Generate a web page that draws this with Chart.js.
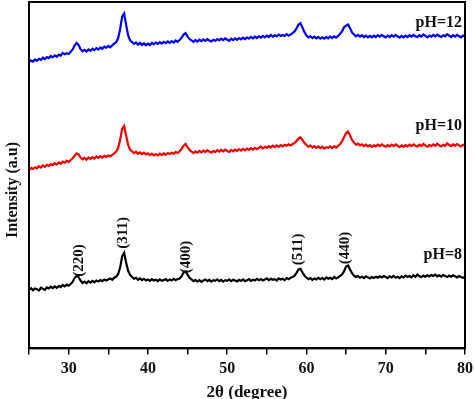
<!DOCTYPE html>
<html>
<head>
<meta charset="utf-8">
<script src="https://cdn.jsdelivr.net/npm/chart.js@4.4.0/dist/chart.umd.min.js"></script>
<style>
  html, body { margin: 0; padding: 0; background: #fff; }
  #wrap { width: 474px; height: 399px; position: relative; }
</style>
</head>
<body>
<div id="wrap"><canvas id="c" width="474" height="399"></canvas></div>
<script>
// ---- Data ----
const scanStart = 25;      // 2θ of first sample
const scanStep = 0.25;     // 2θ step
const xTicks = [30, 40, 50, 60, 70, 80];

const seriesNames = ['pH=8', 'pH=10', 'pH=12'];

const ph8 = [
  17.0, 17.4, 16.8, 17.3,  17.1, 16.7, 17.5, 17.2,  16.9, 17.6, 17.3, 17.8,  17.4, 17.9, 17.5, 18.0,
  17.7, 18.3, 17.9, 18.4,  18.1, 18.6, 19.2, 20.3,  20.9, 20.6, 19.6, 18.9,  19.3, 18.8, 19.4, 19.0,
  19.5, 19.1, 19.6, 19.3,  19.7, 19.4, 19.9, 19.6,  19.9, 20.2, 19.8, 20.4,  20.7, 21.5, 23.4, 26.6,
  27.6, 24.8, 22.4, 21.2,  20.6, 20.1, 20.4, 19.8,  20.2, 19.7, 20.1, 19.6,  19.9, 19.5, 20.0, 19.6,
  19.8, 19.4, 19.9, 19.5,  19.7, 20.0, 19.5, 19.9,  19.6, 20.1, 19.7, 20.0,  20.2, 20.8, 21.9, 22.2,
  21.3, 20.4, 19.9, 19.4,  19.8, 19.3, 19.7, 19.2,  19.6, 19.9, 19.4, 19.8,  19.3, 19.7, 19.5, 19.9,
  19.4, 19.8, 19.3, 19.7,  19.5, 19.9, 19.4, 19.8,  19.6, 19.3, 19.8, 19.5,  19.9, 19.4, 19.7, 20.0,
  19.5, 19.8, 19.6, 20.1,  19.7, 20.0, 19.6, 19.9,  20.2, 19.7, 20.1, 19.8,  20.0, 19.6, 20.2, 19.9,
  20.1, 19.7, 20.3, 20.0,  20.4, 20.6, 21.0, 21.8,  22.8, 23.0, 21.9, 21.0,  20.4, 20.0, 20.3, 19.8,
  20.2, 19.9, 20.4, 20.0,  20.3, 19.9, 20.5, 20.1,  20.4, 20.0, 20.6, 20.2,  20.5, 20.9, 21.4, 22.3,
  23.6, 23.9, 22.8, 21.7,  21.0, 20.6, 20.9, 20.4,  20.7, 20.3, 20.8, 20.5,  20.2, 20.6, 20.3, 20.7,
  20.4, 20.8, 20.5, 20.9,  20.6, 20.3, 20.8, 20.5,  20.9, 20.4, 20.7, 20.3,  20.8, 20.5, 21.0, 20.6,
  20.9, 20.5, 21.1, 20.7,  21.3, 20.8, 20.6, 21.0,  20.7, 21.1, 20.8, 21.2,  20.9, 21.3, 20.8, 21.1,
  20.7, 21.2, 20.9, 20.6,  21.0, 20.7, 21.1, 20.8,  20.5, 20.9, 20.6, 20.4,  20.6
];

const ph10 = [
  51.6, 52.1, 51.8, 52.3,  52.0, 52.6, 52.2, 52.8,  52.4, 53.0, 52.7, 53.2,  52.9, 53.5, 53.1, 53.7,
  53.3, 53.9, 53.6, 54.2,  53.8, 54.4, 54.9, 55.6,  56.3, 56.0, 55.1, 54.6,  55.0, 54.5, 55.1, 54.7,
  55.2, 54.8, 55.4, 55.0,  55.5, 55.1, 55.6, 55.3,  55.7, 55.4, 55.9, 56.3,  56.8, 57.9, 60.2, 63.4,
  64.2, 61.5, 58.8, 57.3,  56.9, 56.4, 56.8, 56.2,  56.6, 56.1, 56.5, 56.0,  56.3, 55.8, 56.2, 55.7,
  56.1, 55.7, 56.2, 55.8,  56.3, 55.9, 56.4, 56.1,  56.5, 56.2, 56.7, 56.4,  56.9, 57.6, 58.5, 59.0,
  58.1, 57.3, 56.8, 56.4,  56.9, 56.5, 57.0, 56.6,  57.1, 56.7, 57.2, 56.8,  56.5, 57.0, 56.7, 57.2,
  56.8, 57.3, 56.9, 57.4,  57.0, 56.7, 57.3, 56.9,  57.4, 57.0, 57.5, 57.1,  57.6, 57.2, 57.7, 57.3,
  57.8, 57.4, 57.9, 57.5,  57.9, 58.3, 57.7, 58.2,  57.9, 58.4, 58.0, 58.5,  58.1, 58.6, 58.2, 58.7,
  58.3, 58.8, 58.5, 58.9,  58.6, 59.0, 59.3, 59.9,  60.6, 60.9, 60.1, 59.3,  58.7, 58.2, 58.6, 58.0,
  58.4, 57.9, 58.3, 57.8,  58.2, 57.7, 58.1, 57.9,  58.3, 57.8, 58.4, 58.0,  58.5, 59.0, 59.8, 61.0,
  62.1, 62.6, 61.5, 60.2,  59.4, 58.8, 59.1, 58.6,  58.9, 58.4, 58.8, 58.3,  58.7, 58.2, 58.6, 58.3,
  58.8, 58.4, 58.9, 58.5,  58.2, 58.7, 58.3, 58.8,  58.4, 58.9, 58.5, 58.1,  58.6, 58.2, 58.7, 58.3,
  58.8, 58.4, 58.9, 58.5,  58.3, 58.8, 58.4, 59.0,  58.6, 58.2, 58.7, 58.4,  58.9, 58.5, 59.1, 58.6,
  58.3, 58.8, 58.5, 59.2,  58.7, 58.4, 58.9, 58.5,  59.0, 58.6, 58.3, 58.8,  58.5
];

const ph12 = [
  82.6, 83.1, 82.8, 83.4,  83.0, 83.6, 83.3, 83.9,  83.5, 84.1, 83.8, 84.4,  84.0, 84.6, 84.2, 84.8,
  84.5, 85.3, 84.9, 85.2,  85.0, 85.6, 86.3, 87.4,  88.2, 87.6, 86.4, 85.8,  86.2, 85.7, 86.3, 85.9,
  86.5, 86.1, 86.7, 86.3,  86.9, 86.5, 87.1, 86.8,  87.3, 86.9, 87.5, 88.0,  88.4, 89.6, 92.3, 95.8,
  96.7, 93.4, 90.4, 88.9,  88.4, 87.9, 88.3, 87.7,  88.2, 87.6, 88.1, 87.5,  88.0, 87.6, 88.2, 87.8,
  88.3, 87.9, 88.4, 88.0,  88.5, 88.1, 88.6, 88.2,  88.7, 88.3, 88.9, 88.5,  89.0, 89.7, 90.6, 91.0,
  90.1, 89.3, 88.9, 88.5,  89.0, 88.6, 89.1, 88.7,  89.2, 88.8, 89.3, 88.9,  88.6, 89.1, 88.8, 89.3,
  88.9, 89.4, 89.0, 89.5,  89.1, 88.8, 89.4, 89.0,  89.5, 89.1, 89.6, 89.2,  89.7, 89.3, 89.8, 89.4,
  89.9, 89.5, 90.0, 89.6,  90.1, 89.7, 90.2, 89.8,  90.3, 89.9, 90.5, 90.0,  90.4, 90.1, 90.6, 90.2,
  90.5, 90.2, 90.7, 90.3,  90.6, 91.0, 91.5, 92.4,  93.5, 93.9, 92.6, 91.3,  90.3, 89.8, 90.1, 89.6,
  90.0, 89.5, 89.9, 89.4,  89.8, 89.4, 89.9, 89.5,  90.0, 89.6, 90.1, 89.7,  90.2, 90.8, 91.6, 92.7,
  93.2, 93.5, 92.4, 91.2,  90.6, 90.1, 90.5, 90.0,  90.4, 89.9, 90.3, 89.8,  90.2, 89.8, 90.3, 89.9,
  90.4, 90.0, 90.5, 90.1,  89.8, 90.3, 89.9, 90.4,  90.0, 90.5, 90.1, 89.7,  90.2, 89.8, 90.3, 89.9,
  90.4, 90.0, 90.5, 90.1,  89.9, 90.4, 90.0, 90.6,  90.2, 89.8, 90.3, 90.0,  90.5, 90.1, 90.6, 90.2,
  89.9, 90.4, 90.1, 90.7,  90.3, 89.9, 90.4, 90.0,  90.5, 90.1, 89.8, 90.3,  90.0
];

const peakLabels = ['(220)', '(311)', '(400)', '(511)', '(440)'];
const peakAngles = [31.3, 36.9, 44.8, 58.9, 64.9];

// ---- Layout / style (kept separate from data) ----
const peakLabelBase = [20.7, 28.8, 21.7, 24.0, 24.3];   // y-value where each rotated label starts
const seriesLabelY = [255, 126, 23];                    // px, for pH=8, pH=10, pH=12
const colors = ['#000000', '#f00000', '#0000f0'];
const serif = '"Liberation Serif", "Times New Roman", serif';

const twoTheta = ph8.map((_, i) => scanStart + i * scanStep);
const toPoints = arr => arr.map((v, i) => ({ x: twoTheta[i], y: v }));
const allSeries = [ph8, ph10, ph12];

const decor = {
  id: 'decor',
  afterDraw(chart) {
    const { ctx, chartArea: a, scales } = chart;
    ctx.save();
    // frame
    ctx.strokeStyle = '#000';
    ctx.lineWidth = 2;
    ctx.strokeRect(a.left, a.top, a.right - a.left, a.bottom - a.top);
    // series labels
    ctx.fillStyle = '#111';
    ctx.font = 'bold 16px ' + serif;
    ctx.textAlign = 'right';
    ctx.textBaseline = 'middle';
    seriesNames.forEach((n, i) => ctx.fillText(n, 462, seriesLabelY[i]));
    // peak labels (rotated)
    ctx.font = 'bold 15px ' + serif;
    peakLabels.forEach((t, i) => {
      const x = scales.x.getPixelForValue(peakAngles[i]);
      const y = scales.y.getPixelForValue(peakLabelBase[i]);
      ctx.save();
      ctx.translate(x, y);
      ctx.rotate(-Math.PI / 2);
      ctx.textAlign = 'left';
      ctx.textBaseline = 'middle';
      ctx.fillText(t, 0, 0);
      ctx.restore();
    });
    // y title
    ctx.save();
    ctx.font = 'bold 16px ' + serif;
    ctx.translate(13, 190);
    ctx.rotate(-Math.PI / 2);
    ctx.textAlign = 'center';
    ctx.textBaseline = 'middle';
    ctx.fillText('Intensity (a.u)', 0, 0);
    ctx.restore();
    ctx.restore();
  }
};

new Chart(document.getElementById('c'), {
  type: 'line',
  data: {
    datasets: allSeries.map((arr, i) => ({
      label: seriesNames[i],
      data: toPoints(arr),
      borderColor: colors[i],
      borderWidth: 2.2,
      pointRadius: 0,
      tension: 0,
      fill: false
    }))
  },
  options: {
    responsive: false,
    animation: false,
    events: [],
    layout: { padding: { left: 29, right: 9, top: 2, bottom: -2 } },
    plugins: { legend: { display: false }, tooltip: { enabled: false } },
    scales: {
      x: {
        type: 'linear',
        min: 25, max: 80,
        afterFit(s) { s.paddingLeft = 0; s.paddingRight = 0; },
        afterBuildTicks(s) {
          const t = [];
          for (let v = 25; v <= 80; v += 5) t.push({ value: v });
          s.ticks = t;
        },
        ticks: {
          autoSkip: false,
          maxRotation: 0,
          padding: 8,
          color: '#111',
          font: { family: serif, size: 16, weight: 'bold', lineHeight: 0.85 },
          callback: v => (xTicks.includes(v) ? String(v) : '')
        },
        grid: { drawOnChartArea: false, drawTicks: true, tickLength: 6, color: '#000', lineWidth: 1.5 },
        border: { display: true, color: '#000', width: 2 },
        title: {
          display: true,
          text: '2θ (degree)',
          color: '#111',
          font: { family: serif, size: 17, weight: 'bold', lineHeight: 1.0 },
          padding: { top: 0, bottom: 0 }
        }
      },
      y: {
        display: false,
        min: 0, max: 100
      }
    }
  },
  plugins: [decor]
});
</script>
</body>
</html>
